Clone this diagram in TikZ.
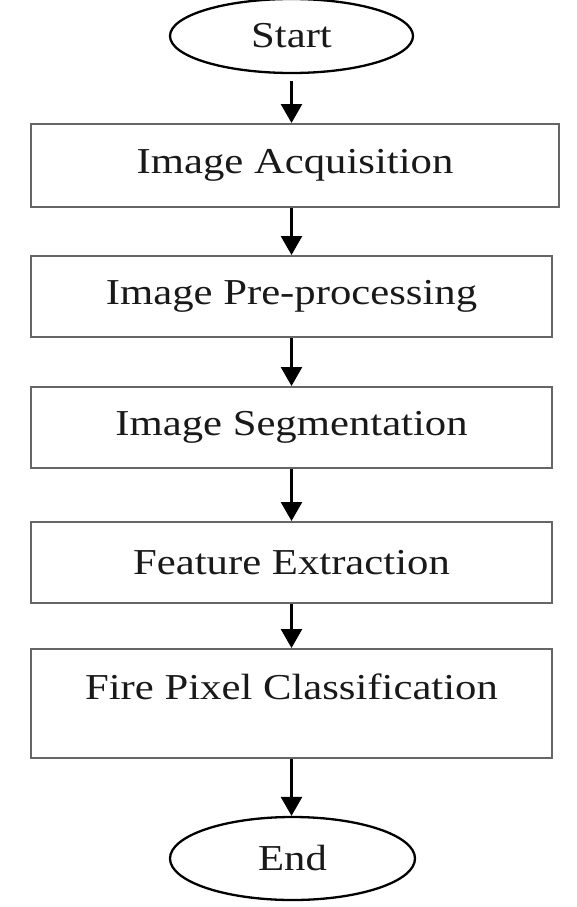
\documentclass[tikz,border=0pt]{standalone}
\usepackage{fontspec}
\setmainfont{Liberation Serif}[FakeStretch=1.17]
\usetikzlibrary{shapes.geometric,arrows.meta}

\begin{document}
\begin{tikzpicture}[x=1pt,y=-1pt,>={Triangle[width=21pt,length=19pt]},
  box/.style={draw=black!60,line width=2pt,minimum width=521pt,minimum height=81pt,inner sep=0pt,font=\fontsize{36.5}{40}\selectfont,text=black!90},
  term/.style={ellipse,draw,line width=2.3pt,minimum width=243pt,minimum height=74pt,inner sep=0pt,font=\fontsize{36.5}{40}\selectfont,text=black!90},
  arr/.style={->,line width=2.6pt}]
 \useasboundingbox (0,0) rectangle (577,907);
 \node[term] (start) at (291.5,36) {Start};
 \node[box,minimum width=528pt,minimum height=83pt] (acq) at (295,165.5) {Image Acquisition};
 \node[box] (pre) at (291.5,296.5) {Image Pre-processing};
 \node[box] (seg) at (291.5,427.5) {Image Segmentation};
 \node[box] (feat) at (291.5,562.5) {Feature Extraction};
 \node[box,minimum height=109pt,text height=25pt,text depth=33pt] (fire) at (291.5,703.5) {Fire Pixel Classification};
 \node[term,minimum width=245pt,minimum height=83pt] (end) at (292.5,858.5) {End};
 \draw[arr,shorten <=7pt] (start.south) -- (start.south |- acq.north);
 \draw[arr] (acq.south -| pre.north) -- (pre.north);
 \draw[arr] (pre.south) -- (seg.north);
 \draw[arr] (seg.south) -- (feat.north);
 \draw[arr] (feat.south) -- (fire.north);
 \draw[arr] (fire.south) -- (fire.south |- end.north);
\end{tikzpicture}
\end{document}
